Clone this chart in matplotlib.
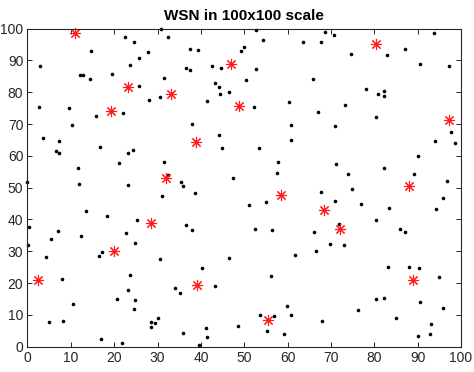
import matplotlib
matplotlib.use("Agg")
import matplotlib.pyplot as plt

plt.rcParams['font.family'] = ['Liberation Sans', 'DejaVu Sans']

node_x = [22.4, 24.5, 14.7, 2.8, 23.6, 12.2, 12.7, 14.4, 19.5, 2.7, 9.6, 22.0, 15.8, 10.2, 3.6,
          30.9, 32.3, 27.7, 25.7, 37.6, 39.4, 49.2, 49.9, 36.6, 37.6, 42.6, 44.7, 31.6, 50.3, 25.8,
          43.2, 44.2, 46.4, 44.3, 30.6, 28.1, 41.3, 37.9, 44.2,
          52.8, 68.6, 70.6, 54.3, 63.6, 67.6, 74.6, 52.8, 65.9, 60.3, 52.2, 67.0, 73.3, 60.9, 71.0,
          93.8, 87.1, 82.9, 90.5, 97.2, 78.1, 80.9, 82.3, 82.3, 80.5, 97.6,
          7.2, 6.5, 7.2, 16.8, 23.3, 24.3, 21.1, 11.6, 0.0, 11.9, 23.3, 13.5, 18.4, 0.35, 7.0, 12.3,
          22.7, 5.5, 0.1, 24.9,
          44.9, 31.4, 32.3, 35.5, 35.9, 47.3, 31.0, 38.6, 25.3, 36.6, 38.0,
          60.9, 53.5, 57.8, 71.2, 57.6, 74.0, 74.9, 67.6, 70.9, 55.0, 51.0, 71.9, 52.6, 56.3, 66.0,
          69.9, 73.1,
          93.9, 98.7, 90.2, 82.3, 89.2, 96.8, 95.9, 76.9, 83.3, 94.2, 80.4, 85.9, 87.2,
          4.3, 16.4, 17.3, 8.0, 23.7, 23.2, 20.6, 24.9, 24.6, 10.4, 5.0, 8.2, 17.0, 21.9,
          30.5, 46.4, 40.3, 34.0, 35.1, 43.2, 30.1, 28.6, 29.5, 28.4, 35.9, 41.1, 41.3, 39.6, 48.6,
          61.6, 66.6, 56.2, 59.9, 53.7, 56.9, 60.9, 68.0, 55.2, 59.1,
          83.2, 88.0, 90.3, 94.9, 76.2, 80.4, 82.2, 90.6, 95.8, 85.1, 93.1, 92.8, 90.2]
node_y = [97.5, 95.8, 92.9, 88.1, 88.6, 85.5, 85.5, 84.3, 85.7, 75.4, 75.0, 73.5, 72.5, 69.8, 65.6,
          99.8, 97.4, 92.6, 90.9, 93.7, 93.2, 93.0, 94.1, 87.7, 86.9, 88.1, 87.6, 84.5, 84.0, 81.9,
          82.8, 81.7, 80.2, 79.4, 78.5, 77.5, 77.3, 69.9, 66.7,
          99.6, 99.1, 97.9, 96.5, 95.8, 95.8, 92.1, 87.3, 84.3, 76.9, 75.3, 73.8, 76.0, 69.7, 69.3,
          98.6, 93.7, 91.7, 88.9, 88.1, 80.9, 79.4, 80.3, 78.8, 72.3, 67.5,
          64.6, 61.5, 61.0, 62.7, 61.0, 62.0, 57.9, 56.1, 51.7, 51.2, 50.8, 42.8, 41.1, 37.7, 36.5, 34.8,
          35.8, 33.9, 32.0, 32.5,
          62.5, 58.0, 54.0, 51.7, 50.4, 53.1, 47.5, 48.2, 39.8, 38.3, 36.8,
          64.9, 62.4, 58.1, 57.5, 54.6, 54.4, 49.6, 48.6, 45.9, 45.6, 44.5, 38.6, 37.1, 36.6, 36.2,
          32.2, 32.0,
          64.8, 64.1, 59.9, 56.2, 54.3, 52.2, 46.7, 44.8, 43.5, 43.3, 39.7, 36.9, 36.2,
          28.1, 28.5, 29.8, 21.4, 22.6, 17.7, 15.1, 14.8, 12.0, 13.4, 7.8, 8.1, 2.5, 1.3,
          27.7, 28.0, 24.8, 18.6, 17.0, 19.0, 9.1, 7.8, 7.5, 6.2, 4.2, 5.8, 3.0, 0.6, 6.6,
          28.9, 30.0, 22.3, 12.9, 10.1, 9.7, 9.9, 8.0, 4.9, 4.1,
          25.1, 25.1, 24.7, 22.0, 11.4, 14.9, 15.4, 14.1, 12.1, 8.9, 7.0, 4.0, 3.4]

ch_x = [11.0, 23.1, 19.3, 46.9, 33.1, 48.7, 80.4, 97.2, 38.8, 31.9,
        28.5, 58.5, 68.5, 72.2, 88.0, 19.9, 2.5, 39.2, 55.4, 89.0]
ch_y = [98.6, 81.8, 74.2, 89.0, 79.4, 75.7, 95.2, 71.2, 64.3, 53.1,
        38.8, 47.6, 43.1, 37.0, 50.5, 30.0, 21.0, 19.3, 8.5, 21.1]

ticks = list(range(0, 101, 10))
title = 'WSN in 100x100 scale'

fig = plt.figure(figsize=(4.74, 3.72), dpi=100)
ax = fig.add_axes([0.058, 0.068, 0.9145, 0.855])

ax.plot(node_x, node_y, linestyle='none', marker='o', markersize=2.6,
        color='black', markeredgewidth=0, clip_on=False)
ax.plot(ch_x, ch_y, linestyle='none', marker=(8, 2, 0), markersize=8,
        color='#ff1a1a', markeredgewidth=0.8, clip_on=False)

ax.set_xlim(0, 100)
ax.set_ylim(0, 100)
ax.set_xticks(ticks)
ax.set_yticks(ticks)
ax.tick_params(direction='in', length=3.5, width=0.7, top=True, right=True,
               labelsize=10, colors='#262626', pad=3)
for s in ax.spines.values():
    s.set_color('#262626')
    s.set_linewidth(0.8)
ax.set_title(title, fontsize=11, fontweight='bold', pad=6)

fig.savefig('out.png', dpi=100)
